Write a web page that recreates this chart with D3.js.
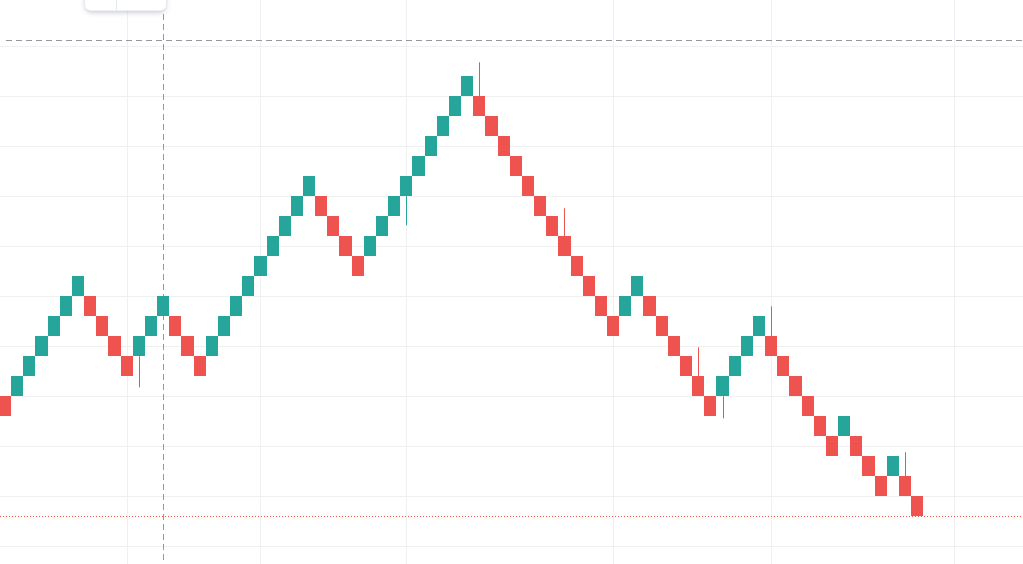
<!DOCTYPE html>
<html>

<head>
    <meta charset="utf-8">
    <title>Renko chart</title>
    <style>
        body { margin: 0; background: #ffffff; overflow: hidden; }
    </style>
</head>

<body>
    <script src="https://d3js.org/d3.v7.min.js"></script>
    <script>
    // renko bricks, brick size 2
    var opens = [115,
        115, 117, 119, 121, 123, 125,
        125, 123, 121, 119,
        119, 121, 123,
        123, 121, 119,
        119, 121, 123, 125, 127, 129, 131, 133, 135,
        135, 133, 131, 129,
        129, 131, 133, 135, 137, 139, 141, 143, 145,
        145, 143, 141, 139, 137, 135, 133, 131, 129, 127, 125, 123,
        123, 125,
        125, 123, 121, 119, 117, 115,
        115, 117, 119, 121,
        121, 119, 117, 115, 113, 111,
        111,
        111, 109, 107,
        107,
        107, 105];
    var closes = [113,
        117, 119, 121, 123, 125, 127,
        123, 121, 119, 117,
        121, 123, 125,
        121, 119, 117,
        121, 123, 125, 127, 129, 131, 133, 135, 137,
        133, 131, 129, 127,
        131, 133, 135, 137, 139, 141, 143, 145, 147,
        143, 141, 139, 137, 135, 133, 131, 129, 127, 125, 123, 121,
        125, 127,
        123, 121, 119, 117, 115, 113,
        117, 119, 121, 123,
        119, 117, 115, 113, 111, 109,
        113,
        109, 107, 105,
        109,
        105, 103];

    // wicks: brick index and the price the wick reaches
    var wickIndex = [11, 33, 39, 46, 57, 59, 63, 74];
    var wickEnd = [115.9, 132.1, 148.4, 133.8, 119.9, 112.8, 124.0, 109.4];

    // time grid sits on these brick columns
    var gridColumns = [10, 21, 33, 50, 63, 78];
    var priceTicks = [95, 100, 105, 110, 115, 120, 125, 130, 135, 140, 145, 150, 155];
    var crosshairColumn = 13;
    var crosshairPrice = 150.6;

    const width = 1023;
    const height = 564;
    const step = 12.16;
    const upColor = "#26a69a";
    const downColor = "#ef5350";

    var x = d3.scaleLinear()
        .domain([0, 1])
        .range([-1, -1 + step]);

    var y = d3.scaleLinear()
        .domain([100, 150])
        .range([546.3, 46.3]);

    var svg = d3.select("body")
        .append("svg")
        .attr("width", width)
        .attr("height", height);

    var defs = svg.append("defs");
    var shadow = defs.append("filter")
        .attr("id", "shadow")
        .attr("x", "-20%").attr("y", "-50%")
        .attr("width", "140%").attr("height", "250%");
    shadow.append("feDropShadow")
        .attr("dx", 0).attr("dy", 2)
        .attr("stdDeviation", 2.5)
        .attr("flood-color", "#5d6685")
        .attr("flood-opacity", 0.35);

    // grid
    var grid = svg.append("g").attr("stroke", "#f0f0f3").attr("stroke-width", 1);
    grid.selectAll(".hgrid")
        .data(priceTicks)
        .enter()
        .append("line")
        .attr("x1", 0).attr("x2", width)
        .attr("y1", function(d) { return Math.round(y(d)) + 0.5; })
        .attr("y2", function(d) { return Math.round(y(d)) + 0.5; });
    grid.selectAll(".vgrid")
        .data(gridColumns)
        .enter()
        .append("line")
        .attr("y1", 0).attr("y2", height)
        .attr("x1", function(d) { return Math.round(x(d + 0.5)) + 0.5; })
        .attr("x2", function(d) { return Math.round(x(d + 0.5)) + 0.5; });

    // crosshair (under the bricks)
    var cx = Math.round(x(crosshairColumn + 0.5)) + 0.5;
    var cy = Math.round(y(crosshairPrice)) + 0.5;
    svg.append("line")
        .attr("x1", 6).attr("x2", width)
        .attr("y1", cy).attr("y2", cy)
        .attr("stroke", "#9598a1")
        .attr("stroke-dasharray", "6,4");
    svg.append("line")
        .attr("x1", cx).attr("x2", cx)
        .attr("y1", 14).attr("y2", height)
        .attr("stroke", "#9598a1")
        .attr("stroke-dasharray", "6,4");

    var bricks = opens.map(function(o, i) {
        return { i: i, open: o, close: closes[i] };
    });

    // wicks
    svg.append("g")
        .selectAll("line")
        .data(wickIndex)
        .enter()
        .append("line")
        .attr("x1", function(d) { return Math.round(x(d + 0.5)) + 0.5; })
        .attr("x2", function(d) { return Math.round(x(d + 0.5)) + 0.5; })
        .attr("y1", function(d) { return y(opens[d]); })
        .attr("y2", function(d, k) { return y(wickEnd[k]); })
        .attr("stroke", function(d) { return closes[d] > opens[d] ? upColor : downColor; })
        .attr("stroke-width", 1);

    // bricks
    svg.append("g")
        .selectAll("rect")
        .data(bricks)
        .enter()
        .append("rect")
        .attr("x", function(d) { return Math.round(x(d.i)); })
        .attr("width", function(d) { return Math.round(x(d.i + 1)) - Math.round(x(d.i)); })
        .attr("y", function(d) { return Math.round(y(Math.max(d.open, d.close))); })
        .attr("height", function(d) {
            return Math.round(y(Math.min(d.open, d.close))) - Math.round(y(Math.max(d.open, d.close)));
        })
        .attr("fill", function(d) { return d.close > d.open ? upColor : downColor; });

    // last price line
    var last = closes[closes.length - 1];
    svg.append("line")
        .attr("x1", 0).attr("x2", width)
        .attr("y1", Math.round(y(last)) + 0.5)
        .attr("y2", Math.round(y(last)) + 0.5)
        .attr("stroke", downColor)
        .attr("stroke-width", 1)
        .attr("stroke-dasharray", "1,2");

    // clipped tooltip at the top
    var tip = svg.append("g");
    tip.append("rect")
        .attr("x", 85).attr("y", -12)
        .attr("width", 81).attr("height", 22.5)
        .attr("rx", 6)
        .attr("fill", "#ffffff")
        .attr("filter", "url(#shadow)");
    tip.append("line")
        .attr("x1", 116.5).attr("x2", 116.5)
        .attr("y1", 0).attr("y2", 10)
        .attr("stroke", "#e3e8f5");
    </script>
</body>

</html>
